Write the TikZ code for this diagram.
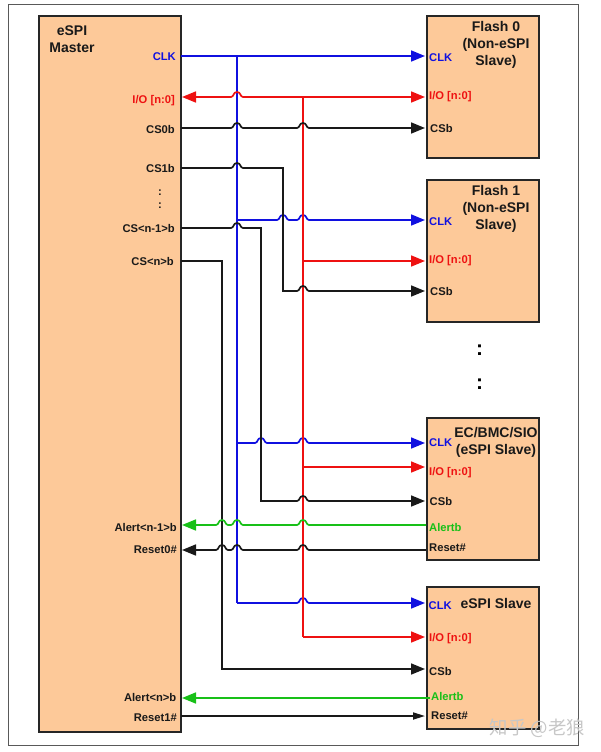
\documentclass[tikz,border=0pt]{standalone}
\usepackage{fontspec}
\setmainfont{Liberation Sans}
\newfontfamily\cjkfont{Noto Sans CJK SC}
\usetikzlibrary{arrows.meta}
\definecolor{boxfill}{HTML}{FDC999}
\definecolor{clkblue}{HTML}{1010E0}
\definecolor{iored}{HTML}{EE1111}
\definecolor{alertgreen}{HTML}{18C018}
\def\hop#1#2{-- ({#1-6},#2) .. controls ({#1-3},#2) and ({#1-4},{#2-5}) .. (#1,{#2-5}) .. controls ({#1+4},{#2-5}) and ({#1+3},#2) .. ({#1+6},#2)}
\tikzset{
  block/.style={draw=black!85,line width=2pt,fill=boxfill,minimum width=112pt,minimum height=142pt,anchor=north west,inner sep=0pt},
  title/.style={font=\bfseries\fontsize{14}{17}\selectfont,align=center,text=black!90,inner sep=0pt},
  pin/.style={font=\bfseries\fontsize{11.2}{12}\selectfont,inner sep=0pt,text=black!90},
  wire/.style={line width=1.7pt,black!90},
  tip/.style={-{Triangle[length=14pt,width=11pt]}},
  revtip/.style={{Triangle[length=14pt,width=11pt]}-},
}
\begin{document}
\begin{tikzpicture}[x=1pt,y=-1pt]
\useasboundingbox (0,0) rectangle (600,752);
\node[draw=black!65,line width=1.4pt,minimum width=570pt,minimum height=741pt,anchor=north west,inner sep=0pt] (frame) at (8,4) {};
% the boxes
\node[block,minimum width=142pt,minimum height=716pt] (master) at (38,15) {};
\node[block] (flash0) at (426,15) {};
\node[block] (flash1) at (426,179) {};
\node[block] (ec) at (426,417) {};
\node[block] (slave) at (426,586) {};
\node[title] (mastertitle) at (72,39.5) {eSPI \\ Master};
\node[title] (flash0title) at (496,45) {Flash 0 \\ (Non-eSPI \\ Slave)};
\node[title] (flash1title) at (496,209) {Flash 1 \\ (Non-eSPI \\ Slave)};
\node[title] (ectitle) at (496,442.5) {EC/BMC/SIO \\ (eSPI Slave)};
\node[title] (slavetitle) at (496,603) {eSPI Slave};
% master pins
\node[pin,anchor=east,text=clkblue] (mclk) at (176,57) {CLK};
\node[pin,anchor=east,text=iored] (mio) at (175,101) {I/O [n:0]};
\node[pin,anchor=east] (mcs0) at (175,129.5) {CS0b};
\node[pin,anchor=east] (mcs1) at (175,168.5) {CS1b};
\node[pin] (mdots1) at (160,193) {:};
\node[pin] (mdots2) at (160,206) {:};
\node[pin,anchor=east] (mcsn1) at (175,228) {CS<n-1>b};
\node[pin,anchor=east] (mcsn) at (174,261) {CS<n>b};
\node[pin,anchor=east] (malert0) at (177,527.5) {Alert<n-1>b};
\node[pin,anchor=east] (mreset0) at (177,550) {Reset0\#};
\node[pin,anchor=east] (malert1) at (176.5,697) {Alert<n>b};
\node[pin,anchor=east] (mreset1) at (177,717.5) {Reset1\#};
% slave pins
\node[pin,anchor=west,text=clkblue] (aclk) at (429,57.5) {CLK};
\node[pin,anchor=west,text=iored] (aio) at (429,97) {I/O [n:0]};
\node[pin,anchor=west] (acs) at (430,128) {CSb};
\node[pin,anchor=west,text=clkblue] (bclk) at (429,221.5) {CLK};
\node[pin,anchor=west,text=iored] (bio) at (429,260.5) {I/O [n:0]};
\node[pin,anchor=west] (bcs) at (430,291) {CSb};
\node[pin,anchor=west,text=clkblue] (cclk) at (429,442.5) {CLK};
\node[pin,anchor=west,text=iored] (cio) at (429,473) {I/O [n:0]};
\node[pin,anchor=west] (ccs) at (429.5,501.5) {CSb};
\node[pin,anchor=west,text=alertgreen] (calert) at (429,527.5) {Alertb};
\node[pin,anchor=west] (creset) at (429,548) {Reset\#};
\node[pin,anchor=west,text=clkblue] (dclk) at (428.5,606) {CLK};
\node[pin,anchor=west,text=iored] (dio) at (429,639) {I/O [n:0]};
\node[pin,anchor=west] (dcs) at (429,671) {CSb};
\node[pin,anchor=west,text=alertgreen] (dalert) at (431,696.5) {Alertb};
\node[pin,anchor=west] (dreset) at (431,716) {Reset\#};
% between the slaves
\node[font=\bfseries\fontsize{21}{21}\selectfont,inner sep=0pt] (sdots1) at (479.5,350) {:};
\node[font=\bfseries\fontsize{21}{21}\selectfont,inner sep=0pt] (sdots2) at (479.5,384) {:};
% ends of the wires
\coordinate (mw1) at (181,56);
\coordinate (aw1) at (425,56);
\coordinate (mw2) at (182,97);
\coordinate (aw2) at (425,97);
\coordinate (mw3) at (181,128);
\coordinate (aw3) at (425,128);
\coordinate (mw4) at (181,168);
\coordinate (cs1v) at (283,168);
\coordinate (cs1w) at (283,291);
\coordinate (bw3) at (425,291);
\coordinate (mw5) at (181,228);
\coordinate (csn1v) at (261,228);
\coordinate (csn1w) at (261,501);
\coordinate (cw3) at (425,501);
\coordinate (mw6) at (181,261);
\coordinate (csnv) at (222,261);
\coordinate (csnw) at (222,669);
\coordinate (dw3) at (425,669);
\coordinate (clkv) at (237,56);
\coordinate (clkw) at (237,603);
\coordinate (clkb) at (237,220);
\coordinate (clkc) at (237,443);
\coordinate (bw1) at (425,220);
\coordinate (cw1) at (425,443);
\coordinate (dw1) at (425,603);
\coordinate (iov) at (303,97);
\coordinate (iow) at (303,637);
\coordinate (iob) at (303,261);
\coordinate (ioc) at (303,467);
\coordinate (bw2) at (425,261);
\coordinate (cw2) at (425,467);
\coordinate (dw2) at (425,637);
\coordinate (mw7) at (182,525);
\coordinate (cw4) at (426,525);
\coordinate (mw8) at (182,550);
\coordinate (cw5) at (426,550);
\coordinate (mw9) at (182,698);
\coordinate (dw4) at (430,698);
\coordinate (mw10) at (181,716);
\coordinate (dw5) at (425,716);
% blue
\draw[wire,clkblue,tip] (mw1) -- (aw1);
\draw[wire,clkblue] (clkv) -- (clkw);
\draw[wire,clkblue,tip] (clkb) \hop{283}{220} \hop{303}{220} -- (bw1);
\draw[wire,clkblue,tip] (clkc) \hop{261}{443} \hop{303}{443} -- (cw1);
\draw[wire,clkblue,tip] (clkw) \hop{303}{603} -- (dw1);
% red
\draw[wire,iored,revtip] (mw2) \hop{237}{97} -- (iov);
\draw[wire,iored,tip] (iov) -- (aw2);
\draw[wire,iored] (iov) -- (iob) -- (ioc) -- (iow);
\draw[wire,iored,tip] (iob) -- (bw2);
\draw[wire,iored,tip] (ioc) -- (cw2);
\draw[wire,iored,tip] (iow) -- (dw2);
% chip selects
\draw[wire,tip] (mw3) \hop{237}{128} \hop{303}{128} -- (aw3);
\draw[wire,tip] (mw4) \hop{237}{168} -- (cs1v) -- (cs1w) \hop{303}{291} -- (bw3);
\draw[wire,tip] (mw5) \hop{237}{228} -- (csn1v) -- (csn1w) \hop{303}{501} -- (cw3);
\draw[wire,tip] (mw6) -- (csnv) -- (csnw) -- (dw3);
% alert and reset
\draw[wire,alertgreen,revtip] (mw7) \hop{222}{525} \hop{237}{525} \hop{303}{525} -- (cw4);
\draw[wire,revtip] (mw8) \hop{222}{550} \hop{237}{550} \hop{303}{550} -- (cw5);
\draw[wire,alertgreen,revtip] (mw9) -- (dw4);
\draw[wire,-{Triangle[length=12pt,width=7pt]}] (mw10) -- (dw5);
\node[font=\cjkfont\fontsize{18.4}{18.4}\selectfont,text=black!22,inner sep=0pt,anchor=east] (mark) at (585,728) {知乎 @老狼};
\end{tikzpicture}
\end{document}
